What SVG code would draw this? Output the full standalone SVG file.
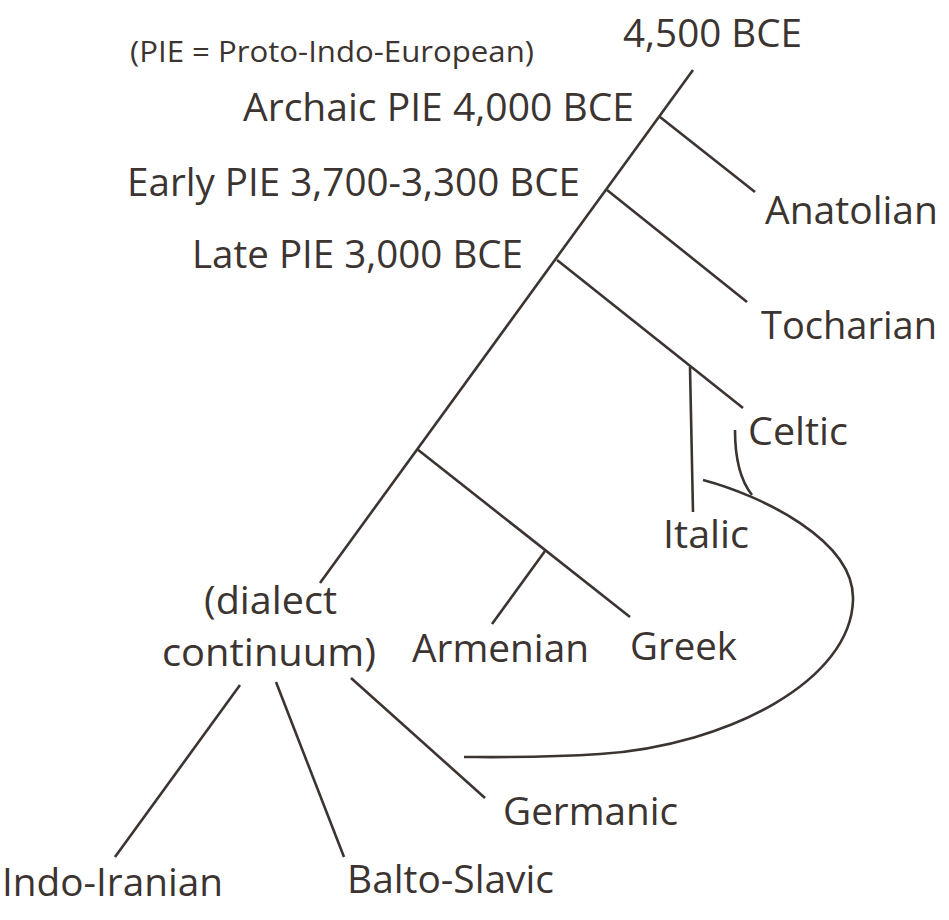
<svg xmlns="http://www.w3.org/2000/svg" width="949" height="920" viewBox="0 0 949 920">
<style>
.bg{fill:#ffffff}
.lbl{font-family:"Open Sans","Noto Sans",sans-serif;font-size:38px;fill:#3b3431}
.note{font-family:"Open Sans","Noto Sans",sans-serif;font-size:30px;fill:#3b3431}
.ln{fill:none;stroke:#3b3431;stroke-width:2.6;stroke-linecap:butt}
</style>
<rect class="bg" x="0" y="0" width="949" height="920"/>
<g id="connectors">
<line class="ln" x1="693" y1="70" x2="320" y2="583"/>
<line class="ln" x1="660" y1="117" x2="755" y2="192"/>
<line class="ln" x1="607" y1="190" x2="747" y2="302"/>
<line class="ln" x1="557" y1="260" x2="743" y2="408"/>
<line class="ln" x1="690" y1="367" x2="693" y2="512"/>
<line class="ln" x1="417" y1="449" x2="630" y2="617"/>
<line class="ln" x1="545" y1="551" x2="492" y2="624"/>
<line class="ln" x1="240" y1="685" x2="115" y2="857"/>
<line class="ln" x1="276" y1="682" x2="344" y2="857"/>
<line class="ln" x1="351" y1="678" x2="485" y2="798"/>
<path class="ln" d="M703,480 C760,495 855,540 853,600 C851,680 730,745 600,754 C540,758 490,757 464,757"/>
<path class="ln" d="M735,430 C735,455 740,480 752,495"/>
</g>
<g id="note-pie"><text class="note" x="130" y="62" textLength="404" lengthAdjust="spacingAndGlyphs">(PIE = Proto-Indo-European)</text></g>
<g id="node-4500"><text class="lbl" x="623" y="47" textLength="179" lengthAdjust="spacingAndGlyphs">4,500 BCE</text></g>
<g id="node-archaic"><text class="lbl" x="243" y="121" textLength="391" lengthAdjust="spacingAndGlyphs">Archaic PIE 4,000 BCE</text></g>
<g id="node-early"><text class="lbl" x="127" y="196" textLength="453" lengthAdjust="spacingAndGlyphs">Early PIE 3,700-3,300 BCE</text></g>
<g id="node-late"><text class="lbl" x="192" y="268" textLength="331" lengthAdjust="spacingAndGlyphs">Late PIE 3,000 BCE</text></g>
<g id="node-anatolian"><text class="lbl" x="765" y="224" textLength="173" lengthAdjust="spacingAndGlyphs">Anatolian</text></g>
<g id="node-tocharian"><text class="lbl" x="761" y="339" textLength="176" lengthAdjust="spacingAndGlyphs">Tocharian</text></g>
<g id="node-celtic"><text class="lbl" x="748" y="445" textLength="100" lengthAdjust="spacingAndGlyphs">Celtic</text></g>
<g id="node-italic"><text class="lbl" x="663" y="548" textLength="86" lengthAdjust="spacingAndGlyphs">Italic</text></g>
<g id="node-dialect"><text class="lbl" x="204" y="614" textLength="133" lengthAdjust="spacingAndGlyphs">(dialect</text><text class="lbl" x="162" y="666" textLength="214" lengthAdjust="spacingAndGlyphs">continuum)</text></g>
<g id="node-armenian"><text class="lbl" x="412" y="662" textLength="177" lengthAdjust="spacingAndGlyphs">Armenian</text></g>
<g id="node-greek"><text class="lbl" x="630" y="660" textLength="107" lengthAdjust="spacingAndGlyphs">Greek</text></g>
<g id="node-germanic"><text class="lbl" x="503" y="825" textLength="175" lengthAdjust="spacingAndGlyphs">Germanic</text></g>
<g id="node-indoiranian"><text class="lbl" x="2" y="896" textLength="221" lengthAdjust="spacingAndGlyphs">Indo-Iranian</text></g>
<g id="node-baltoslavic"><text class="lbl" x="347" y="893" textLength="207" lengthAdjust="spacingAndGlyphs">Balto-Slavic</text></g>
</svg>
